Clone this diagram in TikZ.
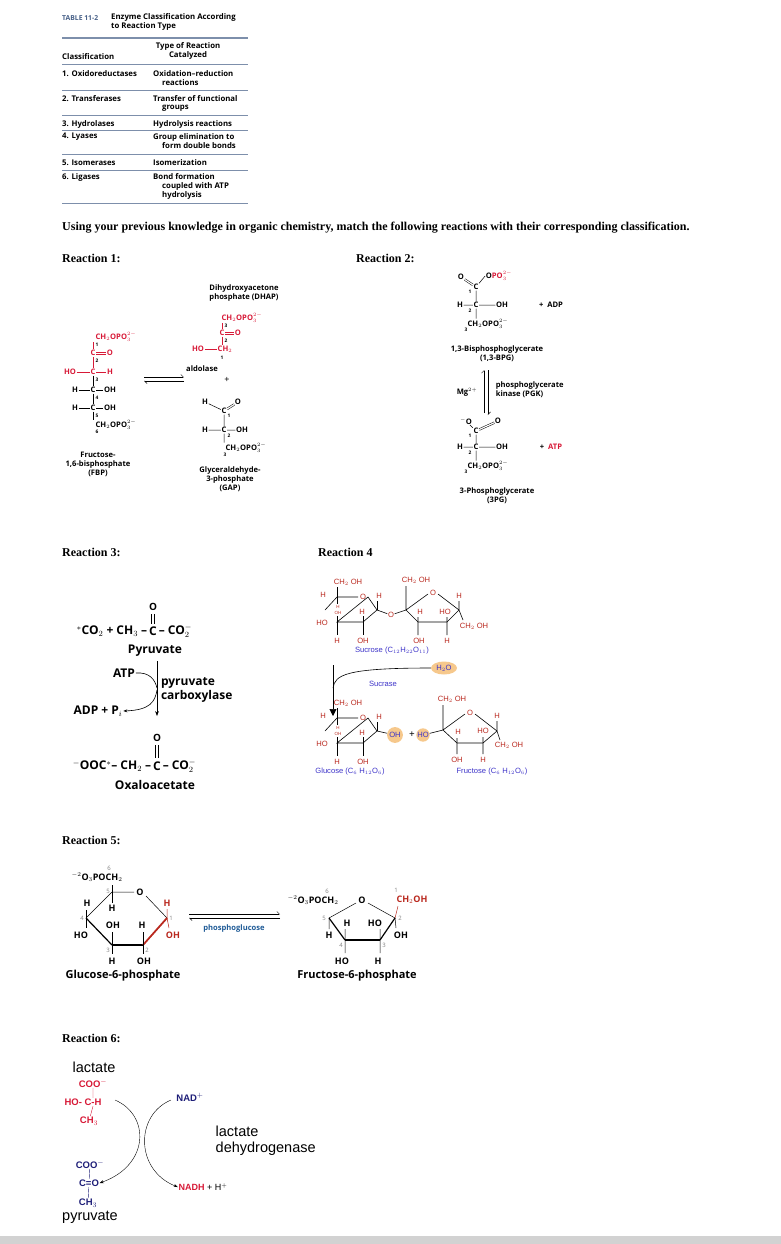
\documentclass[tikz,border=0pt]{standalone}
\usepackage{fontspec}
\setmainfont{Liberation Serif}
\setsansfont{Open Sans}
\newfontfamily\lsans{Liberation Sans}
\usetikzlibrary{arrows.meta,positioning,shapes.geometric}
\definecolor{tabblue}{RGB}{70,95,135}
\definecolor{chred}{RGB}{215,25,55}
\definecolor{cdred}{RGB}{185,40,30}
\definecolor{cblue}{RGB}{60,50,200}
\definecolor{pgblue}{RGB}{30,90,150}
\definecolor{navy}{RGB}{30,30,120}
\definecolor{hilite}{RGB}{246,200,140}
\newcommand{\cho}{CH$_2$OPO$_3^{2-}$}
\tikzset{
  tb/.style={font=\fontsize{7.8}{9}\selectfont\sffamily\bfseries, inner sep=0pt},
  tbl/.style={tb, anchor=west, align=left},
  rule/.style={tabblue!70, line width=0.8pt},
  head/.style={font=\fontsize{12}{14}\selectfont\bfseries, anchor=west, inner sep=0pt},
  atm/.style={font=\fontsize{7.6}{9}\selectfont\sffamily\bfseries, inner sep=0.6pt},
  num/.style={font=\fontsize{4.8}{5}\selectfont\sffamily\bfseries, inner sep=0pt},
  big/.style={font=\fontsize{12}{14}\selectfont\sffamily\bfseries, inner sep=0.8pt},
  chm/.style={font=\fontsize{7.6}{8.5}\selectfont\lsans, text=cdred, inner sep=0.5pt},
  gnum/.style={font=\fontsize{6}{7}\selectfont\sffamily, text=gray, inner sep=0pt},
  ld/.style={font=\fontsize{14.5}{16}\selectfont\lsans, inner sep=0.5pt},
  r5/.style={font=\fontsize{9}{10}\selectfont\sffamily\bfseries, inner sep=0.6pt},
  r6/.style={font=\fontsize{9.5}{10}\selectfont\lsans\bfseries, inner sep=0.6pt},
  bond/.style={line width=0.5pt},
  eq/.style={line width=0.5pt}
}
\begin{document}
\begin{tikzpicture}[x=1pt,y=-1pt]
\useasboundingbox (0,0) rectangle (781,1244);
\fill[gray!35] (0,1236) rectangle (781,1244);

% TABLE
\node[tbl, text=tabblue, font=\fontsize{6.8}{8}\selectfont\sffamily\bfseries] (tno) at (62,18) {TABLE 11-2};
\node[tbl, anchor=north west] (ttl) at (111,13) {Enzyme Classification According\\to Reaction Type};
\draw[rule, line width=1.2pt] (62,38) -- (248,38);
\node[tbl] (h1) at (62,57) {Classification};
\node[tb, align=center] (h2) at (188,51) {Type of Reaction\\Catalyzed};
\draw[rule] (62,64) -- (248,64);
\node[tbl] (c1) at (62,74) {1. Oxidoreductases};
\node[tbl] (t1) at (153,74) {Oxidation--reduction};
\node[tbl] (t1b) at (162,83) {reactions};
\draw[rule, line width=0.4pt] (62,90) -- (248,90);
\node[tbl] (c2) at (62,99) {2. Transferases};
\node[tbl] (t2) at (153,99) {Transfer of functional};
\node[tbl] (t2b) at (162,108) {groups};
\draw[rule, line width=0.4pt] (62,115) -- (248,115);
\node[tbl] (c3) at (62,124) {3. Hydrolases};
\node[tbl] (t3) at (153,124) {Hydrolysis reactions};
\draw[rule, line width=0.4pt] (62,130) -- (248,130);
\node[tbl] (c4) at (62,137) {4. Lyases};
\node[tbl] (t4) at (153,137) {Group elimination to};
\node[tbl] (t4b) at (162,146) {form double bonds};
\draw[rule, line width=0.4pt] (62,154) -- (248,154);
\node[tbl] (c5) at (62,163) {5. Isomerases};
\node[tbl] (t5) at (153,163) {Isomerization};
\draw[rule, line width=0.4pt] (62,170) -- (248,170);
\node[tbl] (c6) at (62,177) {6. Ligases};
\node[tbl] (t6) at (153,177) {Bond formation};
\node[tbl] (t6b) at (162,186) {coupled with ATP};
\node[tbl] (t6c) at (162,195) {hydrolysis};
\draw[rule] (62,203) -- (248,203);

\node[head] (task) at (62,228) {Using your previous knowledge in organic chemistry, match the following reactions with their corresponding classification.};

% REACTION 1
\node[head] (r1) at (62,258) {Reaction 1:};
\node[atm, text=chred] (f1) at (116,337) {\cho};
\node[atm, text=chred] (f2c) at (93,353) {C};
\node[atm, text=chred] (f2o) at (110,353) {O};
\node[atm, text=chred] (f3l) at (70,372) {HO};
\node[atm, text=chred] (f3c) at (93,372) {C};
\node[atm, text=chred] (f3r) at (110,372) {H};
\node[atm] (f4l) at (75,390) {H};
\node[atm] (f4c) at (93,390) {C};
\node[atm] (f4r) at (110,390) {OH};
\node[atm] (f5l) at (75,408) {H};
\node[atm] (f5c) at (93,408) {C};
\node[atm] (f5r) at (110,408) {OH};
\node[atm] (f6) at (116,425) {\cho};
\draw[bond, chred] (f1.south -| f2c) -- (f2c) (f2c) -- (f3c) (f3l) -- (f3c) -- (f3r);
\draw[bond, chred] ([yshift=-1pt]f2c.east) -- ([yshift=-1pt]f2o.west) ([yshift=1pt]f2c.east) -- ([yshift=1pt]f2o.west);
\draw[bond] (f3c) -- (f4c) (f4l) -- (f4c) -- (f4r) (f4c) -- (f5c) (f5l) -- (f5c) -- (f5r) (f5c) -- (f6.north -| f5c);
\foreach \n/\y in {1/345,2/361,3/380,4/398,5/416,6/432} \node[num] at (97,\y) {\n};
\node[atm, align=center] (fbp) at (98,464) {Fructose-\\1,6-bisphosphate\\(FBP)};
\node[atm] (ald) at (202,369) {aldolase};
\coordinate (a1) at (144,377); \coordinate (a2) at (184,377);
\coordinate (a3) at (144,381); \coordinate (a4) at (184,381);
\draw[eq, -{Straight Barb[left]}] (a1) -- (a2);
\draw[eq, -{Straight Barb[left]}] (a4) -- (a3);
\node[atm, align=center] (dhap) at (244,293) {Dihydroxyacetone\\phosphate (DHAP)};
\node[atm, text=chred] (d1) at (242,318) {\cho};
\node[atm, text=chred] (d2c) at (222,333) {C};
\node[atm, text=chred] (d2o) at (238,333) {O};
\node[atm, text=chred] (d3l) at (198,349) {HO};
\node[atm, text=chred] (d3c) at (225,349) {CH$_2$};
\draw[bond, chred] (d1.south -| d2c) -- (d2c) (d2c) -- (d3c.north -| d2c) (d3l) -- (d3c);
\draw[bond, chred] ([yshift=-1pt]d2c.east) -- ([yshift=-1pt]d2o.west) ([yshift=1pt]d2c.east) -- ([yshift=1pt]d2o.west);
\node[num] at (226,326) {3}; \node[num] at (226,341) {2}; \node[num] at (222,358) {1};
\node[atm, font=\fontsize{9}{9}\selectfont\bfseries] (plus1) at (227,380) {+};
\node[atm] (g0h) at (205,402) {H};
\node[atm] (g0o) at (238,402) {O};
\node[atm] (g1c) at (224,411) {C};
\node[atm] (g2l) at (205,430) {H};
\node[atm] (g2c) at (224,430) {C};
\node[atm] (g2r) at (242,430) {OH};
\node[atm] (g3) at (246,448) {\cho};
\draw[bond] (g0h) -- (g1c) (g1c) -- (g2c) (g2l) -- (g2c) -- (g2r) (g2c) -- (g3.north -| g2c);
\draw[bond, double, double distance=1.2pt] (g1c) -- (g0o);
\node[num] at (229,416) {1}; \node[num] at (229,436) {2}; \node[num] at (225,455) {3};
\node[atm, align=center] (gap) at (230,479) {Glyceraldehyde-\\3-phosphate\\(GAP)};

% REACTION 2
\node[head] (r2) at (356,258) {Reaction 2:};
\node[atm] (b0o) at (461,277) {O};
\node[atm] (b0p) at (499,276) {O\textcolor{chred}{PO$_3^{2-}$}};
\node[atm] (b1c) at (476,287) {C};
\node[atm] (b2l) at (460,305) {H};
\node[atm] (b2c) at (476,305) {C};
\node[atm] (b2r) at (502,305) {OH};
\node[atm] (adp) at (551,305) {+\ \ ADP};
\node[atm] (b3) at (488,324) {\cho};
\draw[bond, double, double distance=1.2pt] (b0o) -- (b1c);
\draw[bond] (b1c) -- (b0p.west) (b1c) -- (b2c) (b2l) -- (b2c) -- (b2r) (b2c) -- (b3.north -| b2c);
\node[num] at (470,292) {1}; \node[num] at (470,311) {2}; \node[num] at (466,330) {3};
\node[atm, align=center] (bpg) at (497,354) {1,3-Bisphosphoglycerate\\(1,3-BPG)};
\coordinate (k1) at (484,413); \coordinate (k2) at (484,370);
\coordinate (k3) at (488,370); \coordinate (k4) at (488,415);
\draw[eq, -{Straight Barb[left]}] (k1) -- (k2);
\draw[eq, -{Straight Barb[left]}] (k3) -- (k4);
\node[atm] (mg) at (467,392) {Mg$^{2+}$};
\node[atm, anchor=west, align=left] (pgk) at (495,390) {phosphoglycerate\\kinase (PGK)};
\node[atm] (p0o) at (466,421) {$^{-}$O};
\node[atm] (p0r) at (498,421) {O};
\node[atm] (p1c) at (476,431) {C};
\node[atm] (p2l) at (460,447) {H};
\node[atm] (p2c) at (476,447) {C};
\node[atm] (p2r) at (502,447) {OH};
\node[atm] (atp) at (551,447) {+\ \ \textcolor{chred}{ATP}};
\node[atm] (p3) at (488,466) {\cho};
\draw[bond, double, double distance=1.2pt] (p1c) -- (p0r);
\draw[bond] (p0o) -- (p1c) (p1c) -- (p2c) (p2l) -- (p2c) -- (p2r) (p2c) -- (p3.north -| p2c);
\node[num] at (470,436) {1}; \node[num] at (470,453) {2}; \node[num] at (466,472) {3};
\node[atm, align=center] (pg3) at (497,496) {3-Phosphoglycerate\\(3PG)};

% REACTION 3
\node[head] (r3) at (62,552) {Reaction 3:};
\node[big, font=\fontsize{10}{11}\selectfont\sffamily\bfseries] (y0) at (153,607) {O};
\node[big] (yc) at (153,631) {C};
\node[big, anchor=east] (y1) at (yc.west) {$^{*}$CO$_2$\ +\ CH$_3$\ --};
\node[big, anchor=west] (y2) at (yc.east) {--\ CO$_2^-$};
\draw[bond] (151.5,614) -- (151.5,624) (154.5,614) -- (154.5,624);
\node[big] (pyr) at (155,651) {Pyruvate};
\node[big] (atp3) at (124,673) {ATP};
\node[big] (adp3) at (98,711) {ADP\ +\ P$_i$};
\coordinate (v1) at (157,661); \coordinate (v2) at (157,716);
\draw[line width=0.6pt, -{Stealth[length=5pt]}] (v1) -- (v2);
\draw[line width=0.6pt] (atp3.east) .. controls (150,672) and (155,680) .. (157,688);
\draw[line width=0.6pt, -{Stealth[length=4pt]}] (157,690) .. controls (155,702) and (150,710) .. (adp3.east);
\node[big, anchor=west, align=left] (pc) at (160,690) {pyruvate\\carboxylase};
\node[big, font=\fontsize{10}{11}\selectfont\sffamily\bfseries] (x0) at (157,738) {O};
\node[big] (xc) at (157,766) {C};
\node[big, anchor=east] (x1) at (xc.west) {$^{-}$OOC$^{*}$--\ CH$_2$\ --};
\node[big, anchor=west] (x2) at (xc.east) {--\ CO$_2^-$};
\draw[bond] (155.5,745) -- (155.5,758) (158.5,745) -- (158.5,758);
\node[big] (oaa) at (155,785) {Oxaloacetate};

% REACTION 4
\node[head] (r4) at (318,552) {Reaction 4};
\foreach \dy in {0,121} {
  \begin{scope}[yshift=-\dy]
  \draw[line width=0.6pt] (325,610) -- (337,597) -- (358,597) (368,597) -- (377,610) -- (363,622) -- (337,622) -- cycle;
  \draw[line width=0.6pt] (337,597) -- (337,587) (377,610) -- (377,601) (363,622) -- (363,635) (337,622) -- (337,635) (337,597) -- (337,604) (337,616) -- (337,622) (363,622) -- (363,616);
  \node[chm] at (348,582) {CH$_2$ OH};
  \node[chm] at (323,595) {H};
  \node[chm] at (363,597) {O};
  \node[chm] at (379,596) {H};
  \node[chm, font=\fontsize{4.5}{4}\selectfont\lsans] at (338,607) {H};
  \node[chm, font=\fontsize{4.5}{4}\selectfont\lsans] at (338,613) {OH};
  \node[chm] at (362,612) {H};
  \node[chm] at (322,623) {HO};
  \node[chm] at (337,641) {H};
  \node[chm] at (363,641) {OH};
  \end{scope}}
\node[chm] (bro) at (391,615) {O};
\draw[line width=0.6pt] (377,610) -- (bro) -- (406,610);
\draw[line width=0.6pt] (406,610) -- (428,594) (438,594) -- (459,610) -- (447,622) -- (418,622) -- (406,610) -- (406,586);
\draw[line width=0.6pt] (418,622) -- (418,635) (447,622) -- (447,635) (459,610) -- (459,601) (459,610) -- (463,620) (418,622) -- (418,617) (447,622) -- (447,617);
\node[chm] at (416,580) {CH$_2$ OH};
\node[chm] at (433,593) {O};
\node[chm] at (459,596) {H};
\node[chm] at (420,612) {H};
\node[chm] at (445,612) {HO};
\node[chm] at (474,626) {CH$_2$ OH};
\node[chm] at (419,641) {OH};
\node[chm] at (447,641) {H};
\node[chm, text=cblue] (suc) at (392,651) {Sucrose (C$_{12}$H$_{22}$O$_{11}$)};
\coordinate (dn1) at (333,665);
\coordinate (dn2) at (333,716);
\draw[line width=0.6pt, -{Triangle[length=7pt,width=7pt]}] (dn1) -- (dn2);
\node[chm, text=cblue, fill=hilite, ellipse, minimum width=26pt, minimum height=13pt] (h2o) at (444,668) {H$_2$O};
\draw[line width=0.6pt] (h2o.west) .. controls (345,668) and (335,675) .. (333,688);
\node[chm, text=cblue] (sucr) at (383,684) {Sucrase};
\node[chm, text=cblue, fill=hilite, circle, inner sep=1.2pt] (oh) at (395,735) {OH};
\node[font=\fontsize{10}{10}\selectfont\bfseries, inner sep=0pt] (pl4) at (412,735) {+};
\node[chm, text=cblue, fill=hilite, circle, inner sep=0.3pt] (ho) at (423,735) {HO};
\draw[line width=0.6pt] (377,731) -- (oh);
\draw[line width=0.6pt] (ho) -- (443,730) -- (465,714) (475,714) -- (497,731) -- (483,743) -- (457,743) -- (443,730) -- (443,705);
\draw[line width=0.6pt] (457,743) -- (457,754) (483,743) -- (483,754) (497,731) -- (497,721) (497,731) -- (500,740) (457,743) -- (457,738) (483,743) -- (483,737);
\node[chm] at (452,699) {CH$_2$ OH};
\node[chm] at (470,713) {O};
\node[chm] at (497,716) {H};
\node[chm] at (458,732) {H};
\node[chm] at (483,731) {HO};
\node[chm] at (509,745) {CH$_2$ OH};
\node[chm] at (457,760) {OH};
\node[chm] at (483,760) {H};
\node[chm, text=cblue] (glu) at (350,772) {Glucose (C$_6$ H$_{12}$O$_6$)};
\node[chm, text=cblue] (fru) at (492,772) {Fructose (C$_6$ H$_{12}$O$_6$)};

% REACTION 5
\node[head] (r5) at (62,840) {Reaction 5:};
\draw[line width=0.5pt] (86,918) -- (112,892) -- (134,892) (146,896) -- (167,918);
\draw[line width=2.5pt] (112,945) -- (143,945);
\draw[line width=1.2pt] (86,918) -- (112,945);
\draw[line width=1.8pt, cdred] (143,945) -- (167,918);
\draw[line width=0.5pt] (112,892) -- (112,885) (112,892) -- (112,903) (86,918) -- (86,910) (86,918) -- (86,928) (112,945) -- (112,932) (112,945) -- (112,954) (143,945) -- (143,932) (143,945) -- (143,954);
\draw[line width=0.5pt, cdred] (167,918) -- (167,909) (167,918) -- (169,928);
\node[r5] (g6) at (97,877) {$^{-2}$O$_3$POCH$_2$};
\node[r5] (go) at (140,892) {O};
\node[r5] at (87,903) {H};
\node[r5] at (112,908) {H};
\node[r5, text=cdred] at (167,903) {H};
\node[r5] at (113,925) {OH};
\node[r5] at (142,925) {H};
\node[r5, text=cdred] at (173,935) {OH};
\node[r5] at (81,935) {HO};
\node[r5] at (112,961) {H};
\node[r5] at (144,961) {OH};
\node[gnum] at (109,868) {6}; \node[gnum] at (108,891) {5}; \node[gnum] at (82,918) {4};
\node[gnum] at (108,950) {3}; \node[gnum] at (147,950) {2}; \node[gnum] at (171,918) {1};
\node[big, font=\fontsize{11}{12}\selectfont\sffamily\bfseries] (g6p) at (123,976) {Glucose-6-phosphate};
\coordinate (e1) at (189,914); \coordinate (e2) at (280,914);
\coordinate (e3) at (280,918); \coordinate (e4) at (189,918);
\draw[eq, -{Straight Barb[left]}] (e1) -- (e2);
\draw[eq, -{Straight Barb[left]}] (e3) -- (e4);
\node[atm, text=pgblue] (pgi) at (234,929) {phosphoglucose};
\draw[line width=0.5pt] (329,918) -- (356,903) (368,903) -- (395,918);
\draw[line width=1.2pt] (329,918) -- (345,940);
\draw[line width=2.5pt] (345,940) -- (380,940);
\draw[line width=1.2pt] (380,940) -- (395,918);
\draw[line width=0.5pt] (329,918) -- (329,929) (345,940) -- (345,929) (345,940) -- (345,953) (380,940) -- (380,929) (380,940) -- (380,953) (395,918) -- (396,928);
\draw[line width=0.5pt, cdred] (395,918) -- (398,906);
\node[r5] (f6p0) at (313,900) {$^{-2}$O$_3$POCH$_2$};
\node[r5] (fo) at (362,900) {O};
\node[r5, text=cdred] at (412,900) {CH$_2$OH};
\node[r5] at (347,923) {H};
\node[r5] at (375,923) {HO};
\node[r5] at (329,935) {H};
\node[r5] at (401,935) {OH};
\node[r5] at (342,961) {HO};
\node[r5] at (378,961) {H};
\node[gnum] at (327,891) {6}; \node[gnum] at (396,890) {1}; \node[gnum] at (324,918) {5};
\node[gnum] at (400,918) {2}; \node[gnum] at (341,945) {4}; \node[gnum] at (384,945) {3};
\node[big, font=\fontsize{11}{12}\selectfont\sffamily\bfseries] (f6p) at (357,976) {Fructose-6-phosphate};

% REACTION 6
\node[head] (r6) at (62,1038) {Reaction 6:};
\node[ld] (lac) at (94,1067) {lactate};
\node[r6, text=chred] (l1) at (93,1083) {COO$^{-}$};
\node[r6, text=chred] (l2) at (83,1102) {HO- C-H};
\node[r6, text=chred] (l3) at (89,1121) {CH$_3$};
\draw[chred, line width=0.4pt] (l1) -- (l2.north -| l1) (l2.south -| l1) -- (l3);
\node[r6, text=navy] (nad) at (190,1097) {NAD$^{+}$};
\node[ld, align=left, anchor=west] (ldh) at (215,1141) {lactate\\dehydrogenase};
\node[r6, text=navy] (q1) at (90,1164) {COO$^{-}$};
\node[r6, text=navy] (q2) at (89,1183) {C=O};
\node[r6, text=navy] (q3) at (88,1203) {CH$_3$};
\draw[navy, line width=0.4pt] (q1) -- (q2) -- (q3);
\node[ld] (pyv) at (90,1217) {pyruvate};
\node[r6, font=\fontsize{9}{10}\selectfont\lsans] (nadh) at (203,1187) {\textcolor{chred}{\bfseries NADH} + H$^{+}$};
\coordinate (c1) at (115,1100); \coordinate (c2) at (171,1100);
\draw[line width=0.4pt, -{Stealth[length=4pt]}] (c1) .. controls (150,1115) and (150,1165) .. (q2.east);
\draw[line width=0.4pt, -{Stealth[length=4pt]}] (c2) .. controls (135,1115) and (135,1170) .. (nadh.west);
\end{tikzpicture}
\end{document}
